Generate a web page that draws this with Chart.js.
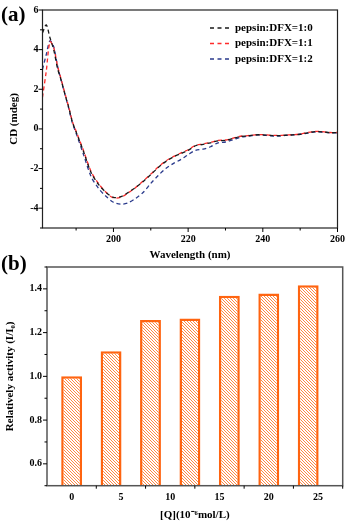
<!DOCTYPE html>
<html>
<head>
<meta charset="utf-8">
<script src="https://cdn.jsdelivr.net/npm/chart.js@4.4.1/dist/chart.umd.min.js"></script>
<style>
  html, body { margin: 0; padding: 0; background: #fff; }
  body { width: 350px; height: 522px; position: relative; overflow: hidden; font-family: "Liberation Serif", serif; }
  .wrap { position: absolute; left: 0; width: 350px; }
  .panel { position: absolute; left: 1px; font-weight: bold; font-size: 21px; font-family: "Liberation Serif", serif; color: #000; line-height: 1; }
</style>
</head>
<body>
<div class="wrap" id="w1" style="top:0;height:262px;"><canvas id="c1" width="350" height="262"></canvas></div>
<div class="wrap" id="w2" style="top:245px;height:277px;"><canvas id="c2" width="350" height="277"></canvas></div>
<div class="panel" style="top:4px;">(a)</div>
<div class="panel" style="top:253px;">(b)</div>
<script>
// ---------- Data: panel (a) CD spectra ----------
const wavelength = [181,182,183,184,185,186,187,188,189,190,192,194,196,198,200,202,204,206,208,210,212,214,216,218,220,222,224,226,228,230,232,234,236,238,240,242,244,246,248,250,252,254,256,258,260];
const cd_1_0 = [4.85,5.25,4.6,4.0,3.07,2.45,1.75,1.1,0.35,-0.15,-1.15,-2.2,-2.8,-3.2,-3.45,-3.42,-3.2,-2.95,-2.65,-2.3,-1.95,-1.65,-1.42,-1.25,-1.08,-0.85,-0.78,-0.7,-0.6,-0.58,-0.48,-0.38,-0.35,-0.3,-0.3,-0.33,-0.34,-0.32,-0.3,-0.27,-0.2,-0.14,-0.15,-0.19,-0.19];
const cd_1_1 = [1.6,2.9,4.4,4.1,3.2,2.5,1.8,1.12,0.38,-0.12,-1.1,-2.15,-2.75,-3.2,-3.48,-3.45,-3.22,-2.95,-2.62,-2.28,-1.92,-1.62,-1.4,-1.22,-1.05,-0.83,-0.76,-0.68,-0.58,-0.56,-0.47,-0.37,-0.34,-0.3,-0.29,-0.32,-0.33,-0.31,-0.29,-0.26,-0.18,-0.13,-0.14,-0.18,-0.18];
const cd_1_2 = [3.0,3.75,4.45,4.15,3.2,2.45,1.75,1.05,0.3,-0.22,-1.3,-2.4,-3.0,-3.4,-3.7,-3.8,-3.72,-3.5,-3.2,-2.75,-2.35,-2.0,-1.75,-1.55,-1.3,-1.08,-1.02,-0.9,-0.7,-0.66,-0.55,-0.42,-0.37,-0.31,-0.31,-0.35,-0.36,-0.33,-0.3,-0.27,-0.21,-0.15,-0.16,-0.2,-0.2];
const seriesLabels = ["pepsin:DFX=1:0","pepsin:DFX=1:1","pepsin:DFX=1:2"];
const xTicksA = [200,220,240,260];
const yTicksA = [-4,-2,0,2,4,6];

// ---------- Data: panel (b) relative activity ----------
const concQ = [0,4,8,12,16,20,24];
const activity = [1.0,1.115,1.258,1.264,1.368,1.379,1.417];
const xTicksB = [0,5,10,15,20,25];
const yTicksB = [0.6,0.8,1.0,1.2,1.4];

const FONT = "Liberation Serif";
Chart.defaults.font.family = FONT;
Chart.defaults.color = "#000";

function framePlugin(opts) {
  return {
    id: 'frame_' + opts.id,
    afterDraw(chart) {
      const ctx = chart.ctx, a = chart.chartArea;
      const xs = chart.scales.x, ys = chart.scales.y;
      ctx.save();
      ctx.strokeStyle = opts.frameColor;
      ctx.lineWidth = opts.frameWidth;
      ctx.strokeRect(a.left, a.top, a.right - a.left, a.bottom - a.top);
      ctx.strokeStyle = '#000';
      ctx.lineWidth = 1;
      opts.xTickVals.forEach(t => {
        const px = xs.getPixelForValue(t.v);
        ctx.beginPath();
        ctx.moveTo(px, a.bottom);
        ctx.lineTo(px, a.bottom + t.len);
        ctx.stroke();
      });
      opts.yTickVals.forEach(t => {
        const py = ys.getPixelForValue(t.v);
        ctx.beginPath();
        ctx.moveTo(a.left, py);
        ctx.lineTo(a.left - t.len, py);
        ctx.stroke();
      });
      if (opts.legend) {
        ctx.font = "bold 11px " + FONT;
        ctx.textBaseline = 'middle';
        ctx.textAlign = 'left';
        chart.data.datasets.forEach((ds, i) => {
          const y = 28 + i * 15.5;
          ctx.strokeStyle = ds.borderColor;
          ctx.lineWidth = 1.3;
          ctx.setLineDash([4, 3.5]);
          ctx.beginPath();
          ctx.moveTo(210, y);
          ctx.lineTo(232, y);
          ctx.stroke();
          ctx.setLineDash([]);
          ctx.fillStyle = '#000';
          ctx.fillText(ds.label, 235, y);
        });
      }
      ctx.restore();
    }
  };
}

// ---------- Chart (a) ----------
const colorsA = ['#1a1a1a', '#ff2a2a', '#2a3a8c'];
const seriesA = [cd_1_0, cd_1_1, cd_1_2];
const ticksA_x = [];
for (let v = 190; v <= 260; v += 10) ticksA_x.push({v, len: (v % 20 === 0) ? 4 : 2.5});
const ticksA_y = [];
for (let v = -5; v <= 6; v += 1) ticksA_y.push({v, len: (v % 2 === 0) ? 4 : 2.5});

new Chart(document.getElementById('c1'), {
  type: 'line',
  data: {
    datasets: seriesA.map((s, i) => ({
      label: seriesLabels[i],
      data: wavelength.map((w, j) => ({x: w, y: s[j]})),
      borderColor: colorsA[i],
      borderWidth: 1.3,
      borderDash: [4, 3],
      pointRadius: 0,
      tension: 0.3,
      fill: false
    }))
  },
  options: {
    responsive: false,
    animation: false,
    layout: { padding: { top: 10, right: 10, left: 8, bottom: 0 } },
    plugins: { legend: { display: false }, tooltip: { enabled: false } },
    scales: {
      x: {
        type: 'linear', min: 181, max: 260,
        grid: { display: false, drawTicks: false }, border: { display: false },
        afterBuildTicks: s => { s.ticks = xTicksA.map(v => ({value: v})); },
        afterFit: s => { s.height = 34; },
        ticks: { font: { size: 10, weight: 'bold' }, padding: 5, maxRotation: 0 },
        title: { display: true, text: 'Wavelength (nm)', font: { size: 11, weight: 'bold' }, padding: { top: 4, bottom: 0 } }
      },
      y: {
        min: -5, max: 6,
        grid: { display: false, drawTicks: false }, border: { display: false },
        afterBuildTicks: s => { s.ticks = yTicksA.map(v => ({value: v})); },
        afterFit: s => { s.width = 34.5; },
        ticks: { font: { size: 10, weight: 'bold' }, padding: 4 },
        title: { display: true, text: 'CD (mdeg)', font: { size: 11, weight: 'bold' }, padding: { top: 0, bottom: 2 } }
      }
    }
  },
  plugins: [framePlugin({id: 'a', frameColor: '#222', frameWidth: 1.2, xTickVals: ticksA_x, yTickVals: ticksA_y, legend: true})]
});

// ---------- Chart (b) ----------
function hatch() {
  const s = 3;
  const c = document.createElement('canvas');
  c.width = s; c.height = s;
  const g = c.getContext('2d');
  g.fillStyle = '#fff';
  g.fillRect(0, 0, s, s);
  g.strokeStyle = '#ff7a30';
  g.lineWidth = 0.9;
  [-s, 0, s].forEach(o => {
    g.beginPath();
    g.moveTo(0, o);
    g.lineTo(s, s + o);
    g.stroke();
  });
  return g.createPattern(c, 'repeat');
}
const ticksB_x = [];
for (let v = 2.5; v <= 27.5; v += 5) ticksB_x.push({v, len: 3});
const ticksB_y = [];
for (let k = 5; k <= 15; k++) { const v = k / 10; ticksB_y.push({v, len: (k % 2 === 0) ? 4 : 2.5}); }

new Chart(document.getElementById('c2'), {
  type: 'bar',
  data: {
    datasets: [{
      label: 'activity',
      data: concQ.map((q, j) => ({x: q, y: activity[j]})),
      backgroundColor: hatch(),
      borderColor: '#ff6410',
      borderWidth: 2.5,
      borderSkipped: 'start',
      barPercentage: 0.53,
      categoryPercentage: 1.0
    }]
  },
  options: {
    responsive: false,
    animation: false,
    layout: { padding: { top: 22, right: 7.3, left: 4, bottom: 0 } },
    plugins: { legend: { display: false }, tooltip: { enabled: false } },
    scales: {
      x: {
        type: 'linear', min: -2.5, max: 27.5, offset: false,
        grid: { display: false, drawTicks: false }, border: { display: false },
        afterBuildTicks: s => { s.ticks = xTicksB.map(v => ({value: v})); },
        afterFit: s => { s.height = 36.3; },
        ticks: { font: { size: 10, weight: 'bold' }, padding: 6, maxRotation: 0 },
        title: { display: true, text: '[Q](10\u207B\u2076mol/L)', font: { size: 11, weight: 'bold' }, padding: { top: 5, bottom: 0 } }
      },
      y: {
        min: 0.5, max: 1.5, beginAtZero: false,
        grid: { display: false, drawTicks: false }, border: { display: false },
        afterBuildTicks: s => { s.ticks = yTicksB.map(v => ({value: v})); },
        afterFit: s => { s.width = 43; },
        ticks: { font: { size: 10, weight: 'bold' }, padding: 5, callback: v => Number(v).toFixed(1) },
        title: { display: true, text: 'Relatively activity (I/I\u2080)', font: { size: 11, weight: 'bold' }, padding: { top: 0, bottom: 2 } }
      }
    }
  },
  plugins: [framePlugin({id: 'b', frameColor: '#555', frameWidth: 1.5, xTickVals: ticksB_x, yTickVals: ticksB_y, legend: false})]
});
</script>
</body>
</html>
